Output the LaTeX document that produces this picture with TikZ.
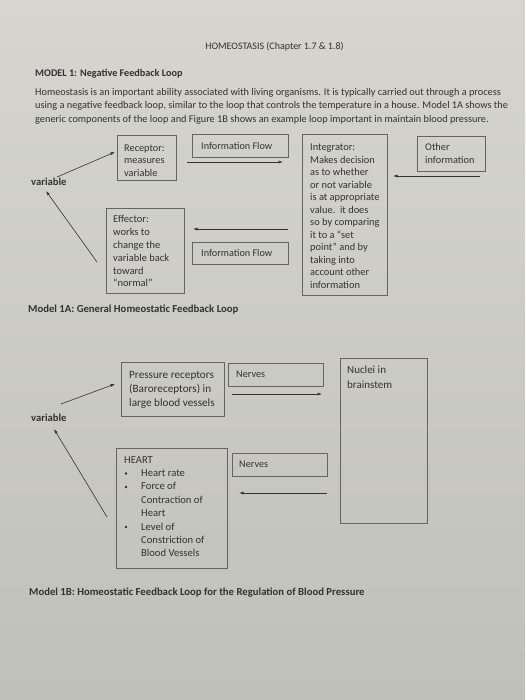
\documentclass[tikz,border=0pt]{standalone}
\usepackage{fontspec}
\setmainfont{Carlito}
\usetikzlibrary{arrows.meta}
\definecolor{papertop}{RGB}{214,213,208}
\definecolor{paperbot}{RGB}{192,192,187}
\definecolor{ink}{RGB}{50,50,50}
\definecolor{boxline}{RGB}{100,100,100}
\begin{document}
\begin{tikzpicture}[x=1pt,y=-1pt,
  box/.style={draw=boxline, line width=0.8pt, inner sep=0pt, anchor=north west},
  txt/.style={inner sep=0pt, anchor=west, align=left, text=ink, font=\fontsize{10.2}{12.5}\selectfont},
  btxt/.style={txt, font=\fontsize{10.2}{12.5}\selectfont\bfseries},
  mtxt/.style={txt, anchor=north west},
  arr/.style={draw=ink, line width=0.6pt, -{Latex[length=4.5pt,width=3pt]}},
]
\shade[top color=papertop, bottom color=paperbot] (0,0) rectangle (525,700);
\useasboundingbox (0,0) rectangle (525,700);

% header
\node[txt, anchor=center, font=\fontsize{10}{12}\selectfont] (title) at (274.5,47) {HOMEOSTASIS (Chapter 1.7 \& 1.8)};
\node[btxt] (model1) at (35,74) {MODEL 1: Negative Feedback Loop};
\node[mtxt, font=\fontsize{10.3}{13.5}\selectfont] (intro) at (35,88) {Homeostasis is an important ability associated with living organisms. It is typically carried out through a process\\using a negative feedback loop, similar to the loop that controls the temperature in a house. Model 1A shows the\\generic components of the loop and Figure 1B shows an example loop important in maintain blood pressure.};

% ---------- Model 1A ----------
\node[box, minimum width=59pt, minimum height=45pt] (rec) at (117,135) {};
\node[mtxt, font=\fontsize{10.3}{12.5}\selectfont] (rect) at (124,144.5) {Receptor:\\measures\\variable};
\node[box, minimum width=96pt, minimum height=23pt] (if1) at (192,134) {};
\node[txt] (if1t) at (201,145.5) {Information Flow};
\node[box, minimum width=85pt, minimum height=161pt] (int) at (302,134) {};
\node[mtxt, font=\fontsize{10.4}{12.5}\selectfont] (intt) at (310,144) {Integrator:\\Makes decision\\as to whether\\or not variable\\is at appropriate\\value.\ \ it does\\so by comparing\\it to a ``set\\point'' and by\\taking into\\account other\\information};
\node[box, minimum width=68pt, minimum height=35pt] (oth) at (417,136) {};
\node[mtxt, font=\fontsize{10.3}{12.8}\selectfont] (otht) at (425,143) {Other\\information};
\node[box, minimum width=78pt, minimum height=85pt] (eff) at (106,208) {};
\node[mtxt, font=\fontsize{10.5}{12.8}\selectfont] (efft) at (113,215.5) {Effector:\\works to\\change the\\variable back\\toward\\``normal''};
\node[box, minimum width=96pt, minimum height=22pt] (if2) at (192,242) {};
\node[txt] (if2t) at (201,253) {Information Flow};
\node[btxt, font=\fontsize{10.6}{12}\selectfont\bfseries] (var1) at (31,182) {variable};

\coordinate (a1s) at (187,162); \coordinate (a1e) at (283,162);
\coordinate (a2s) at (480,176); \coordinate (a2e) at (393,176);
\coordinate (a3s) at (288,229); \coordinate (a3e) at (193,229);
\coordinate (a4s) at (57,177);  \coordinate (a4e) at (115,152);
\coordinate (a5s) at (97,262);  \coordinate (a5e) at (46,191);
\draw[arr] (a1s) -- (a1e);
\draw[arr] (a2s) -- (a2e);
\draw[arr] (a3s) -- (a3e);
\draw[arr] (a4s) -- (a4e);
\draw[arr] (a5s) -- (a5e);

\node[btxt, font=\fontsize{10.7}{12}\selectfont\bfseries] (cap1a) at (28,310) {Model 1A: General Homeostatic Feedback Loop};

% ---------- Model 1B ----------
\node[box, minimum width=103pt, minimum height=54pt] (pr) at (121,362) {};
\node[mtxt, font=\fontsize{11.2}{14}\selectfont] (prt) at (129,371) {Pressure receptors\\(Baroreceptors) in\\large blood vessels};
\node[box, minimum width=95pt, minimum height=23pt] (nv1) at (228,363) {};
\node[txt] (nv1t) at (236,374.5) {Nerves};
\node[box, minimum width=87pt, minimum height=165pt] (nuc) at (340,358) {};
\node[mtxt, font=\fontsize{11}{14.5}\selectfont] (nuct) at (347,366) {Nuclei in\\brainstem};
\node[btxt, font=\fontsize{10.6}{12}\selectfont\bfseries] (var2) at (31,418) {variable};
\node[box, minimum width=111pt, minimum height=120pt] (heart) at (116,448) {};
\node[mtxt, font=\fontsize{10.6}{13.4}\selectfont] (heartt) at (124,456) {HEART};
\node[mtxt, font=\fontsize{10.6}{13.4}\selectfont] (heartl) at (141,469.5) {Heart rate\\Force of\\Contraction of\\Heart\\Level of\\Constriction of\\Blood Vessels};
\foreach \yy/\nm in {473.5/b1,487/b2,527/b3} \node[circle, fill=ink, inner sep=0pt, minimum size=2.6pt] (\nm) at (126,\yy) {};
\node[box, minimum width=95pt, minimum height=23pt] (nv2) at (232,453) {};
\node[txt] (nv2t) at (239,464.5) {Nerves};

\coordinate (b1s) at (232,394); \coordinate (b1e) at (322,394);
\coordinate (b2s) at (327,493); \coordinate (b2e) at (239,493);
\coordinate (b3s) at (61,404);  \coordinate (b3e) at (115,384);
\coordinate (b4s) at (107,517); \coordinate (b4e) at (54,429);
\draw[arr] (b1s) -- (b1e);
\draw[arr] (b2s) -- (b2e);
\draw[arr] (b3s) -- (b3e);
\draw[arr] (b4s) -- (b4e);

\node[btxt, font=\fontsize{10.7}{12}\selectfont\bfseries] (cap1b) at (29,593) {Model 1B: Homeostatic Feedback Loop for the Regulation of Blood Pressure};
\end{tikzpicture}
\end{document}
